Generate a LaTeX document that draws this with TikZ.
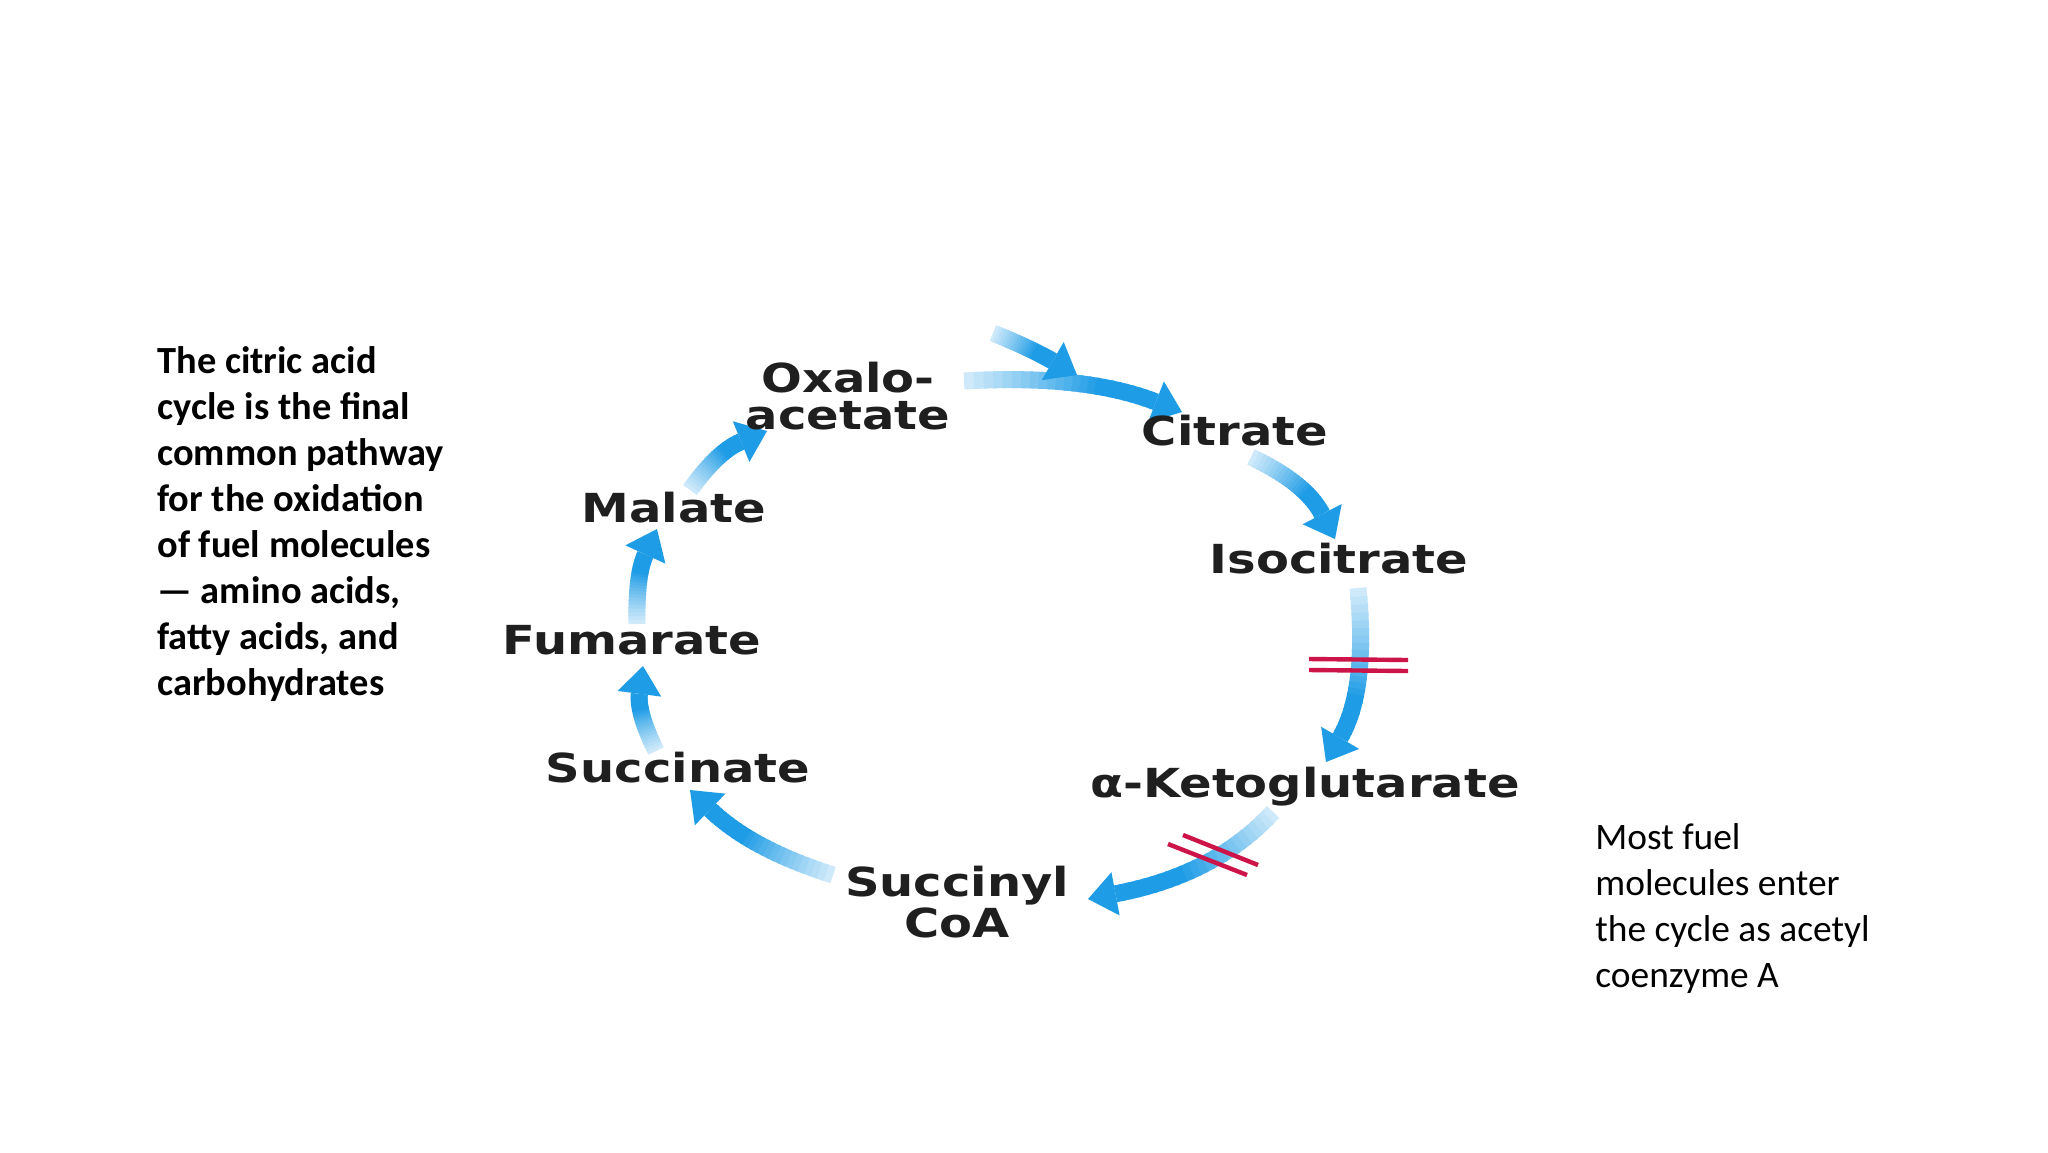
\documentclass[tikz,border=0pt]{standalone}
\usepackage{fontspec}
\usetikzlibrary{calc}
\newfontfamily\labfont[FakeStretch=1.2]{DejaVu Sans Bold}
\newfontfamily\carl{Carlito}
\definecolor{cblue}{HTML}{1E9CE6}
\definecolor{cred}{HTML}{CC1449}
\tikzset{
  lab/.style={font=\labfont\fontsize{20}{20}\selectfont, text=black!88, inner sep=0pt, anchor=base},
  lab2/.style={font=\labfont\fontsize{20}{#1}\selectfont, text=black!88, inner sep=0pt, align=center, anchor=center},
  sidetext/.style={align=left, anchor=north west, inner sep=0pt, text=black},
  redbar/.style={draw=cred, line width=2.2pt},
}
% quadratic bezier point
\newcommand{\qpt}[4]{($($(#1)!#4!(#2)$)!#4!($(#2)!#4!(#3)$)$)}
\newcommand{\cycarrow}[3]{%
  \coordinate (tipP) at (#3);
  \coordinate (ctlP) at (#2);
  \coordinate (stP) at (#1);
  \coordinate (baseP) at ($(tipP)!14pt!(ctlP)$);
  \foreach \kk in {0,...,23} {
    \pgfmathsetmacro{\ta}{\kk/24}
    \pgfmathsetmacro{\tb}{min(1,(\kk+1.4)/24)}
    \pgfmathsetmacro{\pc}{min(100,22+\kk*5.2)}
    \draw[line width=8.5pt, color=cblue!\pc!white]
      \qpt{stP}{ctlP}{baseP}{\ta} -- \qpt{stP}{ctlP}{baseP}{\tb};
  }
  \fill[cblue] (tipP) -- ($(baseP)!11pt!90:(tipP)$) -- ($(baseP)!11pt!-90:(tipP)$) -- cycle;
}
\begin{document}
\begin{tikzpicture}[x=0.5pt,y=-0.5pt]
\useasboundingbox (0,0) rectangle (2048,1152);
\fill[white] (0,0) rectangle (2048,1152);

% side texts
\node[sidetext, font=\carl\bfseries\fontsize{19.2}{23}\selectfont] (lefttext) at (157,346)
  {The citric acid\\cycle is the final\\common pathway\\for the oxidation\\of fuel molecules\\— amino acids,\\fatty acids, and\\carbohydrates};
\node[sidetext, font=\carl\fontsize{18.7}{23}\selectfont] (righttext) at (1595,823)
  {Most fuel\\molecules enter\\the cycle as acetyl\\coenzyme A};

% arrow coordinates
\coordinate (e1) at (993,333);   \coordinate (ec) at (1030,348);  \coordinate (e2) at (1077,375);
\coordinate (a1) at (964,381);   \coordinate (ac) at (1084,374);  \coordinate (a2) at (1182,412);
\coordinate (b1) at (1251,457);  \coordinate (bc) at (1306,483);  \coordinate (b2) at (1335,539);
\coordinate (c1) at (1358,588);  \coordinate (cc) at (1368,690);  \coordinate (c2) at (1326,762);
\coordinate (d1) at (1273,812);  \coordinate (dc) at (1215,875);  \coordinate (d2) at (1088,899);
\coordinate (f1) at (833,875);   \coordinate (fc) at (751,849);   \coordinate (f2) at (690,790);
\coordinate (g1) at (656,751);   \coordinate (gc) at (637,712);   \coordinate (g2) at (643,666);
\coordinate (h1) at (637,624);   \coordinate (hc) at (636,575);   \coordinate (h2) at (657,529);
\coordinate (k1) at (690,490);   \coordinate (kc) at (718,451);   \coordinate (k2) at (767,431);

\cycarrow{a1}{ac}{a2}
\cycarrow{e1}{ec}{e2}
\cycarrow{b1}{bc}{b2}
\cycarrow{c1}{cc}{c2}
\cycarrow{d1}{dc}{d2}
\cycarrow{f1}{fc}{f2}
\cycarrow{g1}{gc}{g2}
\cycarrow{h1}{hc}{h2}
\cycarrow{k1}{kc}{k2}

% red double bars
\coordinate (r1a) at (1309,659); \coordinate (r1b) at (1408,660);
\coordinate (r1c) at (1309,670); \coordinate (r1d) at (1408,671);
\draw[redbar] (r1a) -- (r1b);
\draw[redbar] (r1c) -- (r1d);
\coordinate (r2a) at (1183,835); \coordinate (r2b) at (1258,865);
\coordinate (r2c) at (1168,844); \coordinate (r2d) at (1247,875);
\draw[redbar] (r2a) -- (r2b);
\draw[redbar] (r2c) -- (r2d);

% labels
\node[lab2=18.5pt] (oxaloacetate) at (848,396) {Oxalo-\\acetate};
\node[lab] (citrate) at (1235,445) {Citrate};
\node[lab] (isocitrate) at (1339,573) {Isocitrate};
\node[lab] (akg) at (1305,797) {α-Ketoglutarate};
\node[lab2=16.5pt] (succinylcoa) at (957,902) {Succinyl\\CoA};
\node[lab] (succinate) at (678,782) {Succinate};
\node[lab] (fumarate) at (632,654) {Fumarate};
\node[lab] (malate) at (674,522) {Malate};
\end{tikzpicture}
\end{document}
